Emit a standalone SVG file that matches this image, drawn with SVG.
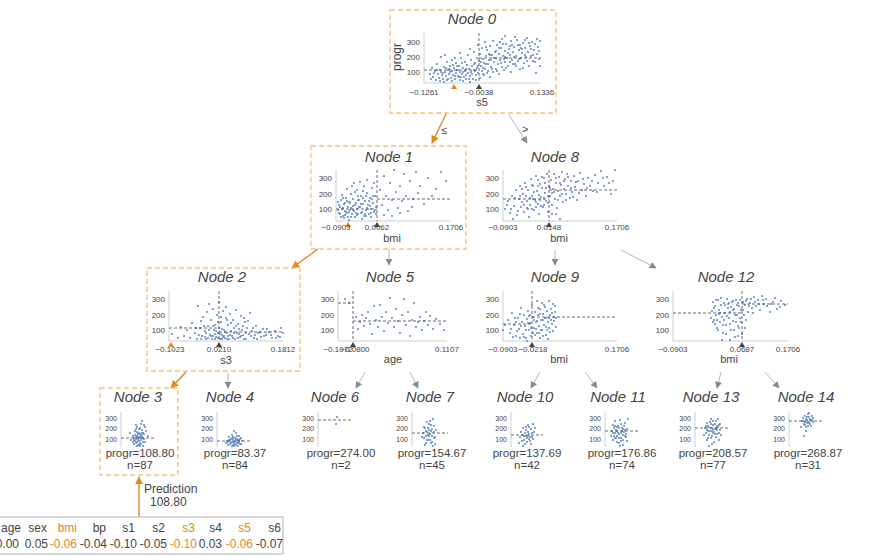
<svg xmlns="http://www.w3.org/2000/svg" width="896" height="556" viewBox="0 0 896 556">
<style>
.t{font-family:"Liberation Sans",Arial,sans-serif;fill:#444443}
.ti{font-size:15px;font-style:italic;text-anchor:middle}
.tk{font-size:8px}
.yt{text-anchor:end}
.xt{text-anchor:middle}
.lt{font-size:7px;text-anchor:end}
.al{font-size:11px;text-anchor:middle}
.lf{font-size:11.5px;text-anchor:middle}
.ax{stroke:#c8c8c8;stroke-width:0.9;fill:none}
.dl{stroke:#444443;stroke-width:0.8;stroke-dasharray:3 2;fill:none}
.pts{fill:none;stroke:#3a6dbf;stroke-width:2.1;stroke-linecap:round;stroke-opacity:0.8}
.box{fill:none;stroke:#f5c27c;stroke-width:1.3;stroke-dasharray:5 3}
.eg{stroke:#aaaaaa;stroke-width:0.9;fill:none;marker-end:url(#ag)}
.eo{stroke:#e08a1e;stroke-width:1.4;fill:none;marker-end:url(#ao)}
.tb{font-family:"Liberation Sans",Arial,sans-serif;font-size:12px;fill:#444443;text-anchor:end}
.or{fill:#e08a1e}
</style>
<defs>
<marker id="ag" viewBox="0 0 10 10" refX="9" refY="5" markerWidth="7" markerHeight="7" markerUnits="userSpaceOnUse" orient="auto"><path d="M0 0L10 5L0 10z" fill="#888"/></marker>
<marker id="ao" viewBox="0 0 10 10" refX="9" refY="5" markerWidth="8" markerHeight="8" markerUnits="userSpaceOnUse" orient="auto"><path d="M0 0L10 5L0 10z" fill="#e08a1e"/></marker>
</defs>

<g id="connectors">
<path class="eo" d="M446 114L432 143"/>
<text class="t" x="441" y="134" font-size="11">≤</text>
<path class="eg" d="M509 115L527 143"/>
<text class="t" x="522" y="133" font-size="11">&gt;</text>
<path class="eo" d="M318 249L292 268"/>
<path class="eg" d="M389 249L389 265"/>
<path class="eg" d="M555 250L555 265"/>
<path class="eg" d="M621 250L656 268"/>
<path class="eo" d="M186 372L171 388"/>
<path class="eg" d="M228 373L228 388"/>
<path class="eg" d="M365 372L356 388"/>
<path class="eg" d="M410 372L418 388"/>
<path class="eg" d="M540 372L531 388"/>
<path class="eg" d="M585 372L597 388"/>
<path class="eg" d="M721 372L717 388"/>
<path class="eg" d="M765 372L779 388"/>
<path class="eo" d="M139 518L139 477"/>
</g>

<g id="node0">
<rect class="box" x="390" y="10" width="166" height="103"/>
<text class="t ti" x="472" y="24">Node 0</text>
<path class="ax" d="M424 33V83H541"/>
<text class="t tk yt" x="420" y="44.5">300</text>
<text class="t tk yt" x="420" y="59.5">200</text>
<text class="t tk yt" x="420" y="74.5">100</text>
<text class="t" font-size="12" transform="translate(401 57) rotate(-90)" text-anchor="middle">progr</text>
<path class="pts" d="M430 74h0M432 68h0M433 77h0M435 71h0M436 80h0M437 64h0M438 74h0M439 78h0M440 70h0M441 57h0M442 75h0M443 79h0M444 67h0M445 72h0M446 76h0M447 62h0M447 80h0M448 70h0M449 74h0M450 66h0M451 78h0M452 71h0M452 60h0M453 75h0M454 68h0M455 79h0M456 73h0M456 63h0M457 70h0M458 76h0M459 66h0M460 80h0M460 72h0M461 58h0M462 74h0M463 68h0M464 77h0M465 62h0M465 71h0M466 79h0M467 65h0M468 73h0M468 55h0M469 69h0M470 76h0M471 60h0M471 72h0M472 66h0M473 79h0M474 52h0M474 70h0M475 63h0M476 75h0M477 58h0M477 68h0M478 45h0M478 73h0M479 61h0M480 78h0M480 54h0M481 66h0M482 71h0M482 48h0M483 59h0M484 75h0M484 63h0M485 42h0M485 69h0M486 56h0M487 73h0M487 50h0M488 64h0M489 60h0M490 77h0M490 46h0M491 67h0M492 55h0M493 72h0M493 41h0M494 62h0M495 52h0M496 69h0M496 58h0M497 45h0M498 64h0M499 74h0M499 54h0M500 60h0M501 48h0M502 67h0M502 39h0M503 56h0M504 70h0M505 51h0M505 62h0M506 44h0M507 58h0M508 66h0M509 49h0M510 55h0M511 72h0M511 41h0M512 60h0M513 52h0M514 47h0M515 64h0M516 56h0M517 40h0M518 61h0M519 50h0M520 69h0M520 45h0M521 58h0M522 53h0M523 43h0M524 63h0M525 48h0M526 57h0M527 38h0M528 52h0M529 66h0M530 46h0M531 56h0M532 42h0M533 61h0M534 50h0M535 44h0M536 73h0M537 54h0M538 47h0M539 59h0M540 41h0M444 82h0M452 81h0M463 81h0M470 82h0M459 77h0M466 75h0M441 72h0M449 69h0M457 66h0M462 63h0M475 71h0M483 68h0M491 60h0M505 57h0M513 64h0M522 49h0M489 54h0M496 51h0M510 46h0M500 42h0M431 79h0M434 73h0M437 70h0M440 81h0M443 73h0M446 68h0M448 79h0M450 72h0M453 65h0M455 76h0M458 70h0M461 77h0M463 72h0M466 69h0M469 79h0M472 74h0M474 64h0M476 80h0M478 66h0M481 62h0M483 74h0M486 64h0M488 71h0M490 55h0M492 69h0M494 58h0M497 71h0M499 48h0M501 63h0M503 44h0M504 59h0M506 68h0M508 53h0M510 62h0M512 45h0M514 57h0M516 66h0M518 45h0M519 59h0M521 48h0M523 68h0M525 55h0M527 61h0M529 43h0M531 49h0M533 55h0M535 62h0M537 39h0M539 51h0M540 66h0M505 36h0M515 37h0M525 40h0M486 47h0M470 49h0M460 53h0M455 58h0M445 55h0"/>
<path class="dl" d="M424 70H479M479 58H541M479 33V83"/>
<path d="M479 84l-3 5h6z" fill="#444443"/>
<path d="M454 84l-3 5h6z" class="or"/>
<text class="t tk xt" x="424" y="95">−0.1261</text>
<text class="t tk xt" x="479" y="95">−0.0038</text>
<text class="t tk xt" x="542" y="95">0.1336</text>
<text class="t al" x="482" y="106">s5</text>
</g>

<g id="node1">
<rect class="box" x="311" y="146" width="155" height="103"/>
<text class="t ti" x="389" y="162">Node 1</text>
<path class="ax" d="M336 170V221H451"/>
<text class="t tk yt" x="332" y="180.5">300</text>
<text class="t tk yt" x="332" y="196.5">200</text>
<text class="t tk yt" x="332" y="211.5">100</text>
<path class="pts" d="M338 210h0M339 205h0M340 214h0M341 200h0M342 209h0M343 216h0M344 204h0M345 211h0M346 198h0M347 213h0M348 207h0M348 217h0M349 202h0M350 210h0M351 194h0M352 214h0M353 206h0M353 199h0M354 211h0M355 217h0M356 203h0M357 209h0M357 190h0M358 214h0M359 200h0M360 207h0M361 196h0M362 212h0M363 204h0M364 216h0M364 186h0M365 201h0M366 210h0M367 193h0M368 205h0M369 214h0M370 198h0M371 209h0M372 188h0M373 203h0M374 212h0M375 196h0M376 207h0M347 189h0M352 186h0M360 182h0M367 180h0M374 183h0M355 192h0M342 195h0M344 218h0M349 220h0M371 217h0M362 219h0M340 207h0M346 212h0M351 208h0M356 213h0M361 204h0M366 216h0M370 206h0M345 203h0M358 200h0M380 190h0M382 205h0M384 176h0M386 196h0M388 210h0M390 183h0M392 200h0M394 170h0M396 192h0M398 208h0M400 186h0M402 201h0M404 174h0M406 196h0M408 211h0M410 181h0M413 199h0M416 172h0M418 193h0M420 186h0M424 204h0M428 178h0M432 196h0M436 189h0M441 172h0M446 181h0M384 215h0M392 216h0M400 213h0M412 207h0M339 213h0M341 217h0M343 208h0M345 215h0M347 201h0M349 212h0M351 217h0M353 210h0M355 205h0M357 215h0M359 207h0M361 213h0M363 198h0M365 214h0M367 208h0M369 201h0M371 213h0M373 196h0M375 210h0M343 198h0M350 203h0M358 196h0M366 196h0M372 199h0M338 202h0M376 214h0M354 183h0M363 191h0"/>
<path class="dl" d="M336 209H377M377 199H451M377 170V221"/>
<path d="M377 222l-3 5h6z" fill="#444443"/>
<path d="M348 222l-3 5h6z" class="or"/>
<text class="t tk xt" x="336" y="230">−0.0903</text>
<text class="t tk xt" x="377" y="230">0.0062</text>
<text class="t tk xt" x="451" y="230">0.1706</text>
<text class="t al" x="392" y="242">bmi</text>
</g>

<g id="node8">
<text class="t ti" x="555" y="162">Node 8</text>
<path class="ax" d="M503 170V221H617"/>
<text class="t tk yt" x="499" y="180.5">300</text>
<text class="t tk yt" x="499" y="196.5">200</text>
<text class="t tk yt" x="499" y="211.5">100</text>
<path class="pts" d="M505 209h0M508 201h0M510 213h0M512 196h0M514 206h0M516 190h0M517 215h0M519 199h0M520 186h0M521 207h0M523 194h0M524 212h0M525 183h0M527 201h0M528 190h0M529 217h0M530 205h0M531 179h0M532 196h0M533 186h0M534 210h0M535 200h0M536 176h0M537 191h0M538 204h0M539 214h0M540 184h0M541 197h0M542 188h0M543 207h0M544 178h0M545 193h0M546 201h0M547 174h0M548 212h0M549 186h0M550 196h0M551 180h0M552 205h0M553 189h0M554 174h0M555 199h0M556 183h0M557 208h0M558 191h0M559 177h0M560 196h0M561 185h0M562 172h0M563 202h0M564 189h0M565 179h0M566 194h0M567 174h0M568 186h0M570 198h0M571 181h0M572 192h0M574 176h0M575 187h0M577 200h0M578 181h0M580 173h0M582 190h0M584 184h0M586 196h0M588 178h0M590 186h0M593 191h0M595 175h0M598 183h0M601 171h0M604 186h0M607 177h0M611 194h0M615 170h0M545 183h0M538 180h0M532 209h0M526 196h0M522 202h0M513 219h0M556 214h0M560 219h0M536 202h0M541 206h0M544 198h0M548 203h0M552 193h0M539 195h0M533 199h0M527 208h0M507 205h0M511 209h0M515 198h0M518 211h0M520 196h0M522 189h0M524 205h0M526 187h0M528 209h0M530 198h0M532 185h0M534 192h0M536 207h0M538 186h0M540 200h0M542 177h0M544 205h0M546 188h0M548 196h0M550 188h0M552 214h0M554 192h0M556 178h0M558 200h0M560 183h0M562 194h0M564 181h0M566 200h0M568 177h0M571 188h0M573 197h0M576 182h0M579 193h0M583 179h0M587 188h0M592 181h0M597 192h0M603 178h0M609 183h0M613 181h0"/>
<path class="dl" d="M503 199H549M549 190H617M549 170V221"/>
<path d="M549 222l-3 5h6z" fill="#444443"/>
<text class="t tk xt" x="503" y="230">−0.0903</text>
<text class="t tk xt" x="549" y="230">0.0148</text>
<text class="t tk xt" x="617" y="230">0.1706</text>
<text class="t al" x="559" y="242">bmi</text>
</g>

<g id="node2">
<rect class="box" x="147" y="268" width="153" height="103"/>
<text class="t ti" x="222" y="282">Node 2</text>
<path class="ax" d="M169 291V341H283"/>
<text class="t tk yt" x="165" y="301.5">300</text>
<text class="t tk yt" x="165" y="317.5">200</text>
<text class="t tk yt" x="165" y="332.5">100</text>
<path class="pts" d="M172 334h0M178 338h0M181 327h0M184 336h0M187 330h0M190 338h0M192 323h0M195 333h0M197 339h0M198 306h0M200 328h0M202 336h0M203 317h0M205 331h0M206 339h0M207 312h0M208 326h0M210 335h0M211 320h0M212 339h0M213 309h0M214 330h0M215 325h0M216 337h0M217 315h0M218 333h0M219 302h0M219 328h0M220 339h0M221 322h0M222 335h0M223 311h0M224 330h0M225 338h0M226 318h0M227 333h0M228 325h0M229 339h0M230 314h0M231 331h0M232 336h0M233 320h0M234 328h0M235 339h0M236 310h0M237 333h0M238 324h0M240 337h0M241 316h0M242 330h0M243 335h0M245 322h0M246 339h0M247 328h0M249 334h0M250 313h0M252 331h0M254 338h0M256 326h0M258 333h0M261 337h0M263 329h0M266 335h0M269 332h0M272 338h0M275 331h0M278 336h0M281 328h0M283 333h0M201 321h0M209 304h0M226 307h0M244 318h0M196 328h0M213 336h0M218 338h0M222 339h0M224 336h0M227 339h0M215 334h0M239 334h0M205 337h0M199 335h0M201 339h0M204 326h0M206 333h0M208 338h0M209 330h0M211 336h0M213 326h0M215 339h0M216 331h0M218 322h0M220 334h0M221 317h0M222 329h0M223 337h0M225 332h0M227 320h0M228 336h0M230 335h0M231 323h0M233 338h0M234 333h0M236 326h0M238 338h0M239 329h0M241 336h0M243 326h0M244 339h0M246 333h0M248 321h0M251 336h0M253 328h0M255 335h0M257 339h0M260 332h0M264 336h0M267 329h0M271 335h0M276 338h0M280 337h0"/>
<path class="dl" d="M169 328H219M219 332H283M219 291V341"/>
<path d="M219 342l-3 5h6z" fill="#444443"/>
<path d="M171 342l-3 5h6z" class="or"/>
<text class="t tk xt" x="170" y="352">−0.1023</text>
<text class="t tk xt" x="219" y="352">0.0210</text>
<text class="t tk xt" x="283" y="352">0.1812</text>
<text class="t al" x="226" y="364">s3</text>
</g>

<g id="node5">
<text class="t ti" x="390" y="282">Node 5</text>
<path class="ax" d="M338 291V341H447"/>
<text class="t tk yt" x="334" y="301.5">300</text>
<text class="t tk yt" x="334" y="317.5">200</text>
<text class="t tk yt" x="334" y="332.5">100</text>
<path class="pts" d="M345 299h0M349 303h0M356 317h0M358 329h0M360 322h0M362 315h0M364 326h0M366 318h0M368 312h0M370 324h0M372 334h0M374 306h0M376 320h0M378 327h0M380 305h0M382 317h0M384 331h0M386 312h0M388 323h0M390 298h0M392 318h0M394 327h0M396 309h0M398 321h0M400 333h0M402 315h0M404 299h0M406 325h0M408 312h0M410 336h0M412 320h0M414 303h0M416 327h0M418 322h0M420 317h0M422 330h0M424 321h0M426 312h0M428 325h0M430 316h0M433 329h0M436 319h0M440 324h0M444 330h0"/>
<path class="dl" d="M338 303H353M353 321H447M353 291V341"/>
<path d="M353 342l-3 5h6z" fill="#444443"/>
<text class="t tk xt" x="338" y="352">−0.1072</text>
<text class="t tk xt" x="355" y="352">−0.0800</text>
<text class="t tk xt" x="447" y="352">0.1107</text>
<text class="t al" x="393" y="363">age</text>
</g>

<g id="node9">
<text class="t ti" x="555" y="282">Node 9</text>
<path class="ax" d="M503 291V341H617"/>
<text class="t tk yt" x="499" y="301.5">300</text>
<text class="t tk yt" x="499" y="317.5">200</text>
<text class="t tk yt" x="499" y="332.5">100</text>
<path class="pts" d="M503 330h0M508 320h0M510 333h0M512 313h0M514 325h0M516 336h0M518 318h0M519 329h0M521 308h0M522 322h0M523 334h0M524 315h0M525 326h0M526 338h0M527 319h0M528 311h0M529 330h0M530 323h0M531 336h0M532 305h0M533 317h0M534 328h0M535 312h0M536 322h0M537 301h0M537 333h0M538 315h0M539 326h0M540 309h0M541 320h0M542 303h0M542 330h0M543 314h0M544 325h0M545 307h0M545 318h0M546 335h0M547 311h0M548 322h0M549 301h0M549 328h0M550 315h0M551 309h0M552 324h0M553 304h0M553 331h0M554 317h0M555 312h0M556 327h0M548 339h0M540 338h0M527 341h0M520 314h0M516 322h0M536 329h0M539 333h0M543 320h0M546 327h0M551 320h0M534 320h0M530 315h0M505 325h0M511 329h0M513 337h0M515 318h0M517 331h0M520 338h0M521 326h0M524 337h0M526 330h0M528 323h0M529 316h0M531 328h0M533 333h0M535 335h0M537 321h0M538 308h0M540 314h0M541 330h0M543 336h0M544 305h0M546 318h0M547 330h0M549 318h0M550 332h0M552 313h0M554 321h0M555 306h0M556 318h0"/>
<path class="dl" d="M503 324H532M532 317H617M532 291V341"/>
<path d="M532 342l-3 5h6z" fill="#444443"/>
<text class="t tk xt" x="503" y="352">−0.0903</text>
<text class="t tk xt" x="533" y="352">−0.0218</text>
<text class="t tk xt" x="617" y="352">0.1706</text>
<text class="t al" x="559" y="363">bmi</text>
</g>

<g id="node12">
<text class="t ti" x="726" y="282">Node 12</text>
<path class="ax" d="M673 291V341H788"/>
<text class="t tk yt" x="669" y="301.5">300</text>
<text class="t tk yt" x="669" y="317.5">200</text>
<text class="t tk yt" x="669" y="332.5">100</text>
<path class="pts" d="M712 311h0M713 302h0M714 320h0M715 306h0M716 315h0M717 328h0M718 300h0M719 310h0M720 322h0M721 305h0M722 317h0M723 333h0M724 303h0M725 313h0M726 325h0M727 299h0M728 308h0M729 318h0M730 312h0M731 330h0M732 302h0M733 321h0M734 309h0M735 337h0M736 300h0M737 315h0M738 326h0M739 306h0M740 318h0M741 310h0M742 334h0M743 302h0M744 315h0M745 305h0M747 299h0M748 312h0M750 303h0M752 308h0M754 297h0M756 306h0M758 300h0M760 310h0M762 296h0M764 304h0M767 306h0M770 312h0M773 302h0M777 309h0M781 301h0M785 305h0M722 340h0M730 340h0M738 336h0M746 320h0M715 324h0M719 314h0M724 320h0M728 304h0M733 310h0M737 305h0M711 318h0M713 322h0M714 308h0M716 300h0M717 320h0M718 330h0M720 313h0M721 298h0M723 325h0M725 305h0M726 334h0M727 316h0M729 303h0M730 324h0M731 307h0M733 301h0M734 330h0M735 315h0M736 322h0M738 303h0M739 328h0M740 300h0M741 322h0M743 310h0M745 328h0M746 301h0M749 306h0M751 299h0M753 313h0M755 302h0M759 304h0M763 300h0M766 299h0M771 304h0M775 298h0M780 307h0"/>
<path class="dl" d="M673 313H742M742 304H788M742 291V341"/>
<path d="M742 342l-3 5h6z" fill="#444443"/>
<text class="t tk xt" x="673" y="352">−0.0903</text>
<text class="t tk xt" x="742" y="352">0.0687</text>
<text class="t tk xt" x="788" y="352">0.1706</text>
<text class="t al" x="729" y="363">bmi</text>
</g>

<g id="node3">
<rect class="box" x="100" y="388" width="78" height="87"/>
<text class="t ti" x="138" y="402">Node 3</text>
<path class="ax" d="M121 412V447"/>
<text class="t lt" x="117" y="420.5">300</text>
<text class="t lt" x="117" y="431">200</text>
<text class="t lt" x="117" y="441.5">100</text>
<path class="pts" d="M131 440h0M133 436h0M134 444h0M135 431h0M136 439h0M137 446h0M137 427h0M138 434h0M139 441h0M140 437h0M141 444h0M142 430h0M143 438h0M144 425h0M145 442h0M135 435h0M138 445h0M140 428h0M142 421h0M144 434h0M139 438h0M141 440h0M136 443h0M133 442h0M146 431h0M143 446h0M137 432h0M140 434h0M134 438h0M142 436h0M145 427h0M139 445h0M130 433h0M148 436h0M136 429h0M141 424h0M137 442h0M139 433h0M141 438h0M138 440h0M135 441h0M143 442h0M140 443h0M136 437h0M142 433h0M138 437h0M134 440h0M144 439h0M137 436h0M141 435h0M139 429h0M143 433h0M136 425h0M140 446h0"/>
<path class="dl" d="M121 438H156"/>
<text class="t lf" x="140" y="457">progr=108.80</text>
<text class="t lf" x="140" y="469">n=87</text>
</g>

<g id="node4">
<text class="t ti" x="230" y="402">Node 4</text>
<path class="ax" d="M217 412V447"/>
<text class="t lt" x="213" y="420.5">300</text>
<text class="t lt" x="213" y="431">200</text>
<text class="t lt" x="213" y="441.5">100</text>
<path class="pts" d="M227 441h0M229 437h0M230 444h0M231 439h0M232 435h0M233 442h0M234 446h0M235 438h0M236 433h0M237 443h0M238 440h0M239 436h0M240 444h0M241 438h0M228 445h0M233 437h0M235 444h0M238 446h0M230 440h0M236 439h0M242 441h0M226 443h0M234 431h0M239 442h0M232 446h0M237 436h0M231 443h0M240 439h0M229 440h0M231 442h0M233 439h0M235 441h0M237 439h0M239 440h0M234 443h0M236 441h0M232 438h0M238 443h0M241 444h0M228 442h0M236 445h0M233 445h0"/>
<path class="dl" d="M217 441H250"/>
<text class="t lf" x="235" y="457">progr=83.37</text>
<text class="t lf" x="235" y="469">n=84</text>
</g>

<g id="node6">
<text class="t ti" x="335" y="402">Node 6</text>
<path class="ax" d="M318 412V447"/>
<text class="t lt" x="314" y="420.5">300</text>
<text class="t lt" x="314" y="431">200</text>
<text class="t lt" x="314" y="441.5">100</text>
<path class="pts" d="M337 417h0M336 424h0"/>
<path class="dl" d="M318 420H353"/>
<text class="t lf" x="341" y="457">progr=274.00</text>
<text class="t lf" x="341" y="469">n=2</text>
</g>

<g id="node7">
<text class="t ti" x="430" y="402">Node 7</text>
<path class="ax" d="M412 412V447"/>
<text class="t lt" x="408" y="420.5">300</text>
<text class="t lt" x="408" y="431">200</text>
<text class="t lt" x="408" y="441.5">100</text>
<path class="pts" d="M423 433h0M424 438h0M425 428h0M426 443h0M427 422h0M428 435h0M429 430h0M430 440h0M431 425h0M432 436h0M433 419h0M434 432h0M435 444h0M424 427h0M427 440h0M429 436h0M431 431h0M433 446h0M426 431h0M428 428h0M432 442h0M434 426h0M422 437h0M430 421h0M435 437h0M436 430h0M425 445h0M426 436h0M428 440h0M430 434h0M432 429h0M434 438h0M431 443h0M429 424h0M427 432h0"/>
<path class="dl" d="M412 433H448"/>
<text class="t lf" x="432" y="457">progr=154.67</text>
<text class="t lf" x="432" y="469">n=45</text>
</g>

<g id="node10">
<text class="t ti" x="525" y="402">Node 10</text>
<path class="ax" d="M511 412V447"/>
<text class="t lt" x="507" y="420.5">300</text>
<text class="t lt" x="507" y="431">200</text>
<text class="t lt" x="507" y="441.5">100</text>
<path class="pts" d="M520 437h0M521 432h0M522 441h0M523 428h0M524 436h0M525 444h0M526 430h0M527 438h0M528 425h0M529 434h0M530 441h0M531 429h0M532 437h0M533 424h0M534 432h0M523 446h0M525 433h0M527 442h0M529 427h0M531 444h0M533 439h0M519 443h0M535 428h0M528 436h0M522 435h0M524 440h0M526 436h0M528 432h0M530 437h0M532 433h0M526 427h0M529 439h0"/>
<path class="dl" d="M511 435H543"/>
<text class="t lf" x="527" y="457">progr=137.69</text>
<text class="t lf" x="527" y="469">n=42</text>
</g>

<g id="node11">
<text class="t ti" x="618" y="402">Node 11</text>
<path class="ax" d="M605 412V447"/>
<text class="t lt" x="601" y="420.5">300</text>
<text class="t lt" x="601" y="431">200</text>
<text class="t lt" x="601" y="441.5">100</text>
<path class="pts" d="M612 431h0M613 425h0M614 436h0M615 421h0M616 430h0M617 442h0M618 426h0M619 434h0M620 420h0M621 438h0M622 428h0M623 445h0M624 432h0M625 423h0M626 437h0M627 429h0M628 419h0M613 440h0M615 433h0M617 427h0M619 443h0M621 424h0M623 435h0M625 430h0M627 441h0M614 428h0M616 438h0M618 433h0M620 446h0M622 431h0M624 426h0M626 434h0M611 436h0M613 433h0M615 438h0M617 431h0M619 428h0M621 433h0M623 429h0M625 436h0M617 436h0M619 438h0M621 441h0M615 426h0M623 440h0"/>
<path class="dl" d="M605 431H638"/>
<text class="t lf" x="622" y="457">progr=176.86</text>
<text class="t lf" x="622" y="469">n=74</text>
</g>

<g id="node13">
<text class="t ti" x="711" y="402">Node 13</text>
<path class="ax" d="M695 412V447"/>
<text class="t lt" x="691" y="420.5">300</text>
<text class="t lt" x="691" y="431">200</text>
<text class="t lt" x="691" y="441.5">100</text>
<path class="pts" d="M705 428h0M706 433h0M707 423h0M708 438h0M709 427h0M710 431h0M711 419h0M712 436h0M713 425h0M714 442h0M715 429h0M716 421h0M717 434h0M718 427h0M719 440h0M720 424h0M706 426h0M708 431h0M710 422h0M712 444h0M714 432h0M716 437h0M718 419h0M720 430h0M704 435h0M709 446h0M711 428h0M713 433h0M715 424h0M717 430h0M719 425h0M707 440h0M721 435h0M707 430h0M709 435h0M711 424h0M713 429h0M715 434h0M717 426h0M719 433h0M711 438h0M713 421h0M716 428h0M708 426h0M712 431h0"/>
<path class="dl" d="M695 428H729"/>
<text class="t lf" x="713" y="457">progr=208.57</text>
<text class="t lf" x="713" y="469">n=77</text>
</g>

<g id="node14">
<text class="t ti" x="806" y="402">Node 14</text>
<path class="ax" d="M789 412V447"/>
<text class="t lt" x="785" y="420.5">300</text>
<text class="t lt" x="785" y="431">200</text>
<text class="t lt" x="785" y="441.5">100</text>
<path class="pts" d="M802 421h0M803 418h0M804 424h0M805 416h0M806 427h0M807 420h0M808 414h0M809 423h0M810 419h0M811 426h0M812 416h0M813 422h0M801 427h0M805 422h0M807 417h0M809 413h0M811 420h0M806 431h0M804 436h0M813 418h0M808 426h0M803 421h0M806 419h0M808 422h0M810 424h0M812 420h0M805 425h0M807 423h0M809 417h0"/>
<path class="dl" d="M789 421H823"/>
<text class="t lf" x="808" y="457">progr=268.87</text>
<text class="t lf" x="808" y="469">n=31</text>
</g>

<g id="prediction">
<text class="t" x="144" y="493" font-size="12">Prediction</text>
<text class="t" x="150" y="506" font-size="12">108.80</text>
</g>

<g id="instance">
<rect x="-2" y="517" width="285" height="37" fill="#ffffff" stroke="#b0b0b0" stroke-width="1"/>
<text class="tb" x="21" y="532">age</text>
<text class="tb" x="47" y="532">sex</text>
<text class="tb" x="77" y="532" style="fill:#e08a1e">bmi</text>
<text class="tb" x="106" y="532">bp</text>
<text class="tb" x="135" y="532">s1</text>
<text class="tb" x="165" y="532">s2</text>
<text class="tb" x="195" y="532" style="fill:#e08a1e">s3</text>
<text class="tb" x="222" y="532">s4</text>
<text class="tb" x="251" y="532" style="fill:#e08a1e">s5</text>
<text class="tb" x="281" y="532">s6</text>
<text class="tb" x="19" y="548">0.00</text>
<text class="tb" x="48" y="548">0.05</text>
<text class="tb" x="77" y="548" style="fill:#e08a1e">-0.06</text>
<text class="tb" x="107" y="548">-0.04</text>
<text class="tb" x="137" y="548">-0.10</text>
<text class="tb" x="167" y="548">-0.05</text>
<text class="tb" x="197" y="548" style="fill:#e08a1e">-0.10</text>
<text class="tb" x="222" y="548">0.03</text>
<text class="tb" x="253" y="548" style="fill:#e08a1e">-0.06</text>
<text class="tb" x="283" y="548">-0.07</text>
</g>
</svg>
